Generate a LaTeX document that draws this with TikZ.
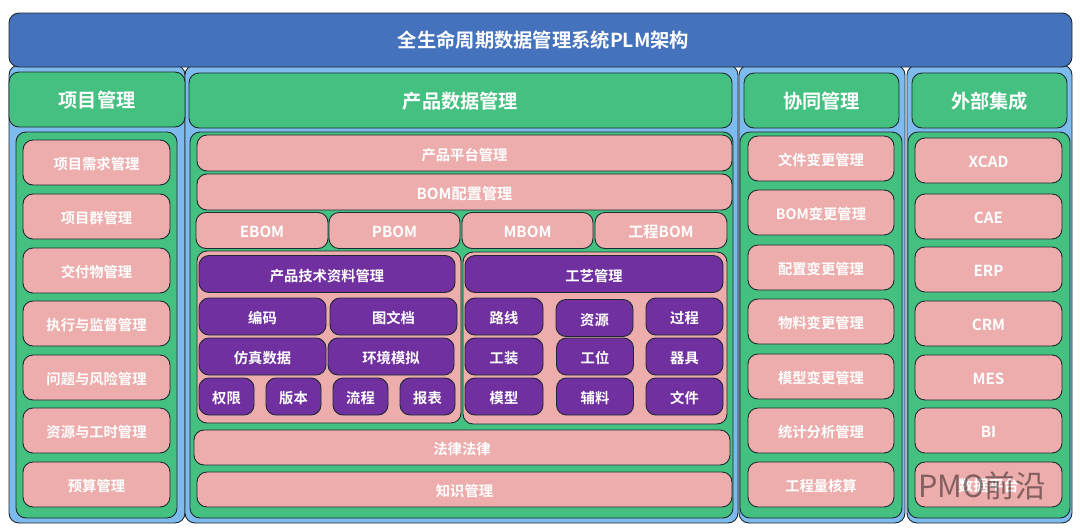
\documentclass[tikz,border=0pt]{standalone}
\usepackage{fontspec}
\setmainfont{Noto Sans CJK SC}[BoldFont={Noto Sans CJK SC Bold}]
\definecolor{barblue}{HTML}{4472BC}
\definecolor{skyblue}{HTML}{7DBBEE}
\definecolor{leafgreen}{HTML}{44C080}
\definecolor{rosepink}{HTML}{EDADAD}
\definecolor{deeppurple}{HTML}{7030A0}
\definecolor{edgedark}{HTML}{1E2A30}
\tikzset{
  box/.style={draw=edgedark,line width=0.9pt,rounded corners=10pt,inner sep=0pt,outer sep=0pt,
    text=white,font=\bfseries,align=center},
  barbox/.style={box,fill=barblue,font=\fontsize{19.3}{22}\selectfont\bfseries},
  colbox/.style={box,fill=skyblue},
  headbox/.style={box,fill=leafgreen,text height=19pt,text depth=2.5pt,font=\fontsize{19.2}{22}\selectfont\bfseries},
  bodybox/.style={box,fill=leafgreen},
  pinkbox/.style={box,fill=rosepink,text height=15pt,text depth=1pt,font=\fontsize{14.3}{16}\selectfont\bfseries},
  pinkwide/.style={pinkbox,font=\fontsize{15.2}{17}\selectfont\bfseries},
  panelbox/.style={box,fill=rosepink},
  purplebox/.style={box,fill=deeppurple,text height=15pt,text depth=1pt,font=\fontsize{14.3}{16}\selectfont\bfseries},
}
\begin{document}
\begin{tikzpicture}[x=1pt,y=-1pt]
\useasboundingbox (0,0) rectangle (1080,528);
% columns and title
\foreach \Name/\X/\W in {coleft/97/176, comid/461.5/553, coright/822/166, coext/989.5/165}{
  \node[colbox,minimum width=\W,minimum height=458] (\Name) at (\X,294) {};
}
\node[barbox,minimum width=1063,minimum height=54] (title) at (540.5,40) {\hspace*{6pt}全生命周期数据管理系统PLM架构};
% column headers
\foreach \Name/\X/\Y/\W/\Label in {hleft/97/99.5/176/项目管理, hmid/460.5/100.5/543/产品数据管理,
    hright/821.5/100.5/155/协同管理, hext/989.5/100.5/155/外部集成}{
  \node[headbox,minimum width=\W,minimum height=55] (\Name) at (\X,\Y) {\Label};
}
% green bodies
\foreach \Name/\X/\W in {bleft/96.5/161, bmid/461.5/543, bright/821/162, bext/989/162}{
  \node[bodybox,minimum width=\W,minimum height=386] (\Name) at (\X,325) {};
}
% left column
\foreach \Name/\Y/\Label in {a1/162.5/项目需求管理, a2/216.5/项目群管理, a3/270.5/交付物管理,
    a4/323.5/执行与监督管理, a5/377.5/问题与风险管理, a6/430.5/资源与工时管理, a7/484.5/预算管理}{
  \node[pinkbox,minimum width=147,minimum height=45] (\Name) at (96.5,\Y) {\Label};
}
% collaboration column
\foreach \Name/\Y/\Label in {c1/158.5/文件变更管理, c2/212.5/BOM变更管理, c3/267.5/配置变更管理,
    c4/321.5/物料变更管理, c5/376.5/模型变更管理, c6/430.5/统计分析管理, c7/484.5/工程量核算}{
  \node[pinkbox,minimum width=146,minimum height=45] (\Name) at (821,\Y) {\Label};
}
% integration column
\foreach \Name/\Y/\Label in {e1/160.5/XCAD, e2/216.5/CAE, e3/269.5/ERP,
    e4/323.5/CRM, e5/377.5/MES, e6/430.5/BI, e7/484.5/数据平台}{
  \node[pinkwide,minimum width=147,minimum height=45] (\Name) at (988.5,\Y) {\Label};
}
% product data rows
\foreach \Name/\X/\Y/\W/\H/\Label in {platform/464.5/153/535/36/产品平台管理,
    law/462/447.5/536/35/法律法律, know/464.5/489.5/535/35/知识管理}{
  \node[pinkbox,minimum width=\W,minimum height=\H] (\Name) at (\X,\Y) {\Label};
}
\foreach \Name/\X/\Y/\W/\H/\Label in {bomcfg/464.5/192/535/36/BOM配置管理,
    ebom/262/230.5/132/36/EBOM, pbom/394.5/230.5/131/36/PBOM,
    mbom/527.5/230.5/131/36/MBOM, gbom/661/230.5/132/36/工程BOM}{
  \node[pinkwide,minimum width=\W,minimum height=\H] (\Name) at (\X,\Y) {\Label};
}
\node[panelbox,minimum width=264,minimum height=172] (techpanel) at (329,337) {};
\node[panelbox,minimum width=264,minimum height=172] (procpanel) at (595,338) {};
% purple blocks
\foreach \Name/\X/\Y/\W/\Label in {tech/327/274/256/产品技术资料管理, proc/594/274/258/工艺管理,
    code/262.5/316.5/127/编码, draw/393.5/316.5/127/图文档,
    sim/262.5/356.5/127/仿真数据, env/391/356.5/126/环境模拟,
    auth/226.5/396.5/55/权限, ver/293.5/396.5/55/版本, flow/360.5/396.5/55/流程, rep/427.5/396.5/55/报表,
    route/504/316.5/78/路线, res/594.5/318/77/资源, pro/684.5/316.5/77/过程,
    tool/504/356.5/78/工装, stat/595/356.5/77/工位, fix/684.5/356.5/77/器具,
    model/504/396.5/78/模型, aux/595/396.5/77/辅料, file/684.5/396.5/77/文件}{
  \node[purplebox,minimum width=\W,minimum height=37] (\Name) at (\X,\Y) {\Label};
}
\node[text=black,opacity=0.45,font=\fontsize{30.5}{33}\selectfont,inner sep=0pt] (mark) at (982,486) {PMO前沿};
\end{tikzpicture}
\end{document}
